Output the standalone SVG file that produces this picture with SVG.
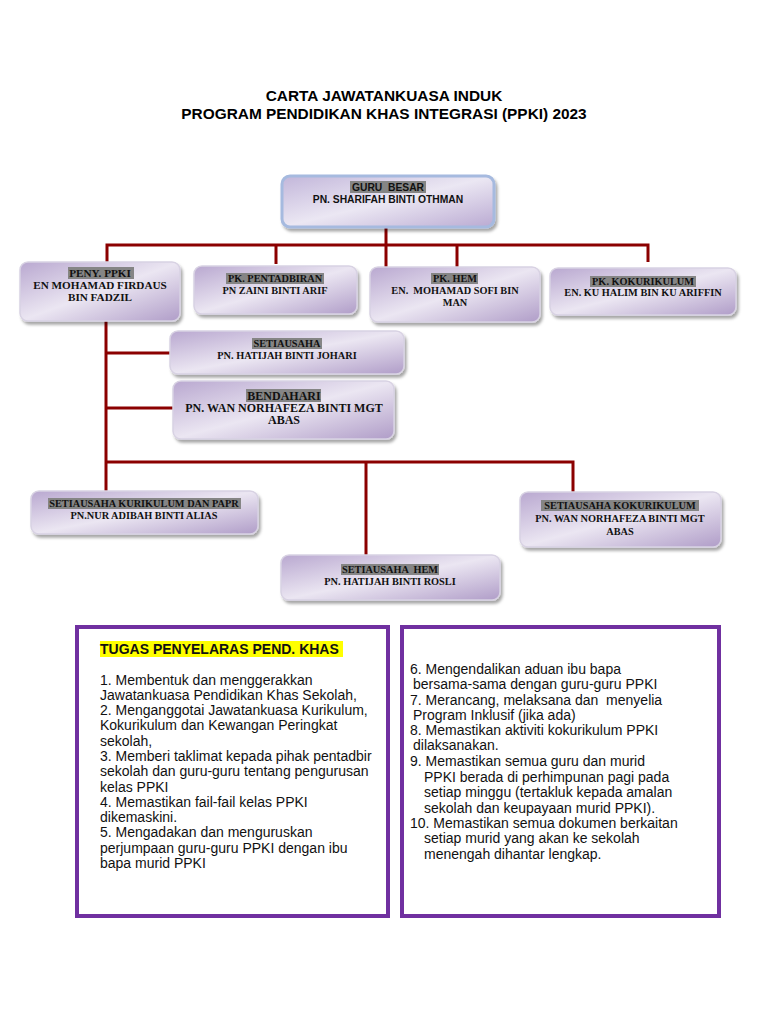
<svg xmlns="http://www.w3.org/2000/svg" width="768" height="1024" viewBox="0 0 768 1024">
<defs>
<linearGradient id="g" x1="0" y1="0" x2="1" y2="1">
<stop offset="0" stop-color="#b9a8d0"/>
<stop offset="0.5" stop-color="#ebe6f2"/>
<stop offset="1" stop-color="#b09dc8"/>
</linearGradient>
<linearGradient id="gb" x1="0" y1="0" x2="1" y2="1">
<stop offset="0" stop-color="#c2b6da"/>
<stop offset="0.5" stop-color="#ebe7f3"/>
<stop offset="1" stop-color="#baaad2"/>
</linearGradient>
<filter id="sh" x="-10%" y="-10%" width="125%" height="140%">
<feDropShadow dx="2" dy="3" stdDeviation="1.5" flood-color="#000" flood-opacity="0.35"/>
</filter>
</defs>
<style>
.box{fill:url(#g);stroke:#d8d2e3;stroke-width:1.5;filter:url(#sh)}
.gb{fill:url(#gb);stroke:#a6badf;stroke-width:3;filter:url(#sh)}
.hl{fill:#858585}
.t{font-family:"Liberation Serif","Times New Roman",serif;font-weight:bold;font-size:10.3px;fill:#111;text-anchor:middle}
.ta{font-family:"Liberation Sans",Arial,sans-serif;font-weight:bold;font-size:10.3px;fill:#111;text-anchor:middle}
.ttl{font-family:"Liberation Sans",Arial,sans-serif;font-weight:bold;font-size:15.4px;fill:#000;text-anchor:middle}
.c{stroke:#8b0000;stroke-width:3;fill:none}
.pb{fill:#fff;stroke:#7030a0;stroke-width:4}
.bt{font-family:"Liberation Sans",Arial,sans-serif;font-size:14px;fill:#111}
</style>
<rect width="768" height="1024" fill="#fff"/>
<text class="ttl" x="384" y="101">CARTA JAWATANKUASA INDUK</text>
<text class="ttl" x="384" y="119">PROGRAM PENDIDIKAN KHAS INTEGRASI (PPKI) 2023</text>

<g id="connectors">
<path class="c" d="M386 227 V270"/>
<path class="c" d="M107 264 V245 H648 V262"/>
<path class="c" d="M276 245 V264"/>
<path class="c" d="M457 245 V268"/>
<path class="c" d="M106 321 V491"/>
<path class="c" d="M106 353 H171"/>
<path class="c" d="M106 408 H174"/>
<path class="c" d="M106 462 H573 V493"/>
<path class="c" d="M366 462 V556"/>
</g>

<g id="guru-besar">
<rect class="gb" x="282" y="176" width="212" height="51" rx="8"/>
<rect class="hl" x="350" y="181" width="76" height="12"/>
<text class="ta" x="388" y="191" xml:space="preserve">GURU  BESAR</text>
<text class="ta" x="388" y="203">PN. SHARIFAH BINTI OTHMAN</text>
</g>

<g id="peny-ppki">
<rect class="box" x="20" y="262" width="160" height="59" rx="8"/>
<rect class="hl" x="68" y="267" width="66" height="12"/>
<text class="t" x="100" y="277" style="font-size:11.2px">PENY. PPKI</text>
<text class="t" x="100" y="289" style="font-size:11.2px">EN MOHAMAD FIRDAUS</text>
<text class="t" x="100" y="301" style="font-size:11.2px">BIN FADZIL</text>
</g>

<g id="pk-pentadbiran">
<rect class="box" x="194" y="266" width="163" height="48" rx="8"/>
<rect class="hl" x="226" y="273" width="98" height="11"/>
<text class="t" x="275" y="282">PK. PENTADBIRAN</text>
<text class="t" x="275" y="294">PN ZAINI BINTI ARIF</text>
</g>

<g id="pk-hem">
<rect class="box" x="370" y="267" width="170" height="55" rx="8"/>
<rect class="hl" x="431" y="273" width="47" height="11"/>
<text class="t" x="455" y="282">PK. HEM</text>
<text class="t" x="455" y="294" xml:space="preserve">EN.  MOHAMAD SOFI BIN</text>
<text class="t" x="455" y="306">MAN</text>
</g>

<g id="pk-kokurikulum">
<rect class="box" x="550" y="268" width="186" height="47" rx="8"/>
<rect class="hl" x="590" y="276" width="106" height="11"/>
<text class="t" x="643" y="285">PK. KOKURIKULUM</text>
<text class="t" x="643" y="296">EN. KU HALIM BIN KU ARIFFIN</text>
</g>

<g id="setiausaha">
<rect class="box" x="170" y="331" width="234" height="43" rx="8"/>
<rect class="hl" x="252" y="338" width="70" height="11"/>
<text class="t" x="287" y="347">SETIAUSAHA</text>
<text class="t" x="287" y="359">PN. HATIJAH BINTI JOHARI</text>
</g>

<g id="bendahari">
<rect class="box" x="173" y="381" width="221" height="58" rx="8"/>
<rect class="hl" x="246" y="389" width="75" height="13"/>
<text class="t" x="284" y="400" style="font-size:12px">BENDAHARI</text>
<text class="t" x="284" y="412" style="font-size:12px">PN. WAN NORHAFEZA BINTI MGT</text>
<text class="t" x="284" y="424" style="font-size:12px">ABAS</text>
</g>

<g id="setiausaha-kurikulum">
<rect class="box" x="31" y="491" width="227" height="43" rx="8"/>
<rect class="hl" x="48" y="498" width="193" height="11"/>
<text class="t" x="144" y="507">SETIAUSAHA KURIKULUM DAN PAPR</text>
<text class="t" x="144" y="519">PN.NUR ADIBAH BINTI ALIAS</text>
</g>

<g id="setiausaha-hem">
<rect class="box" x="281" y="555" width="219" height="45" rx="8"/>
<rect class="hl" x="341" y="564" width="98" height="11"/>
<text class="t" x="390" y="573" xml:space="preserve">SETIAUSAHA  HEM</text>
<text class="t" x="390" y="585">PN. HATIJAH BINTI ROSLI</text>
</g>

<g id="setiausaha-kokurikulum">
<rect class="box" x="520" y="492" width="201" height="55" rx="8"/>
<rect class="hl" x="541" y="500" width="158" height="11"/>
<text class="t" x="620" y="509">SETIAUSAHA KOKURIKULUM</text>
<text class="t" x="620" y="522">PN. WAN NORHAFEZA BINTI MGT</text>
<text class="t" x="620" y="535">ABAS</text>
</g>

<g id="tugas-kiri">
<rect class="pb" x="77" y="627" width="311" height="289"/>
<rect x="100" y="641" width="243" height="16" fill="#ffff00"/>
<text class="bt" x="100" y="654" style="font-weight:bold">TUGAS PENYELARAS PEND. KHAS</text>
<text class="bt" x="100" y="685">1. Membentuk dan menggerakkan</text>
<text class="bt" x="100" y="700">Jawatankuasa Pendidikan Khas Sekolah,</text>
<text class="bt" x="100" y="715">2. Menganggotai Jawatankuasa Kurikulum,</text>
<text class="bt" x="100" y="730">Kokurikulum dan Kewangan Peringkat</text>
<text class="bt" x="100" y="746">sekolah,</text>
<text class="bt" x="100" y="761">3. Memberi taklimat kepada pihak pentadbir</text>
<text class="bt" x="100" y="776">sekolah dan guru-guru tentang pengurusan</text>
<text class="bt" x="100" y="792">kelas PPKI</text>
<text class="bt" x="100" y="807">4. Memastikan fail-fail kelas PPKI</text>
<text class="bt" x="100" y="822">dikemaskini.</text>
<text class="bt" x="100" y="837">5. Mengadakan dan menguruskan</text>
<text class="bt" x="100" y="853">perjumpaan guru-guru PPKI dengan ibu</text>
<text class="bt" x="100" y="868">bapa murid PPKI</text>
</g>

<g id="tugas-kanan">
<rect class="pb" x="402" y="627" width="317" height="289"/>
<text class="bt" x="410" y="674">6. Mengendalikan aduan ibu bapa</text>
<text class="bt" x="413" y="689">bersama-sama dengan guru-guru PPKI</text>
<text class="bt" x="410" y="705" xml:space="preserve">7. Merancang, melaksana dan  menyelia</text>
<text class="bt" x="413" y="720">Program Inklusif (jika ada)</text>
<text class="bt" x="410" y="735">8. Memastikan aktiviti kokurikulum PPKI</text>
<text class="bt" x="413" y="750">dilaksanakan.</text>
<text class="bt" x="410" y="766">9. Memastikan semua guru dan murid</text>
<text class="bt" x="424" y="782">PPKI berada di perhimpunan pagi pada</text>
<text class="bt" x="424" y="797">setiap minggu (tertakluk kepada amalan</text>
<text class="bt" x="424" y="813">sekolah dan keupayaan murid PPKI).</text>
<text class="bt" x="410" y="828">10. Memastikan semua dokumen berkaitan</text>
<text class="bt" x="424" y="843">setiap murid yang akan ke sekolah</text>
<text class="bt" x="424" y="859">menengah dihantar lengkap.</text>
</g>
</svg>
